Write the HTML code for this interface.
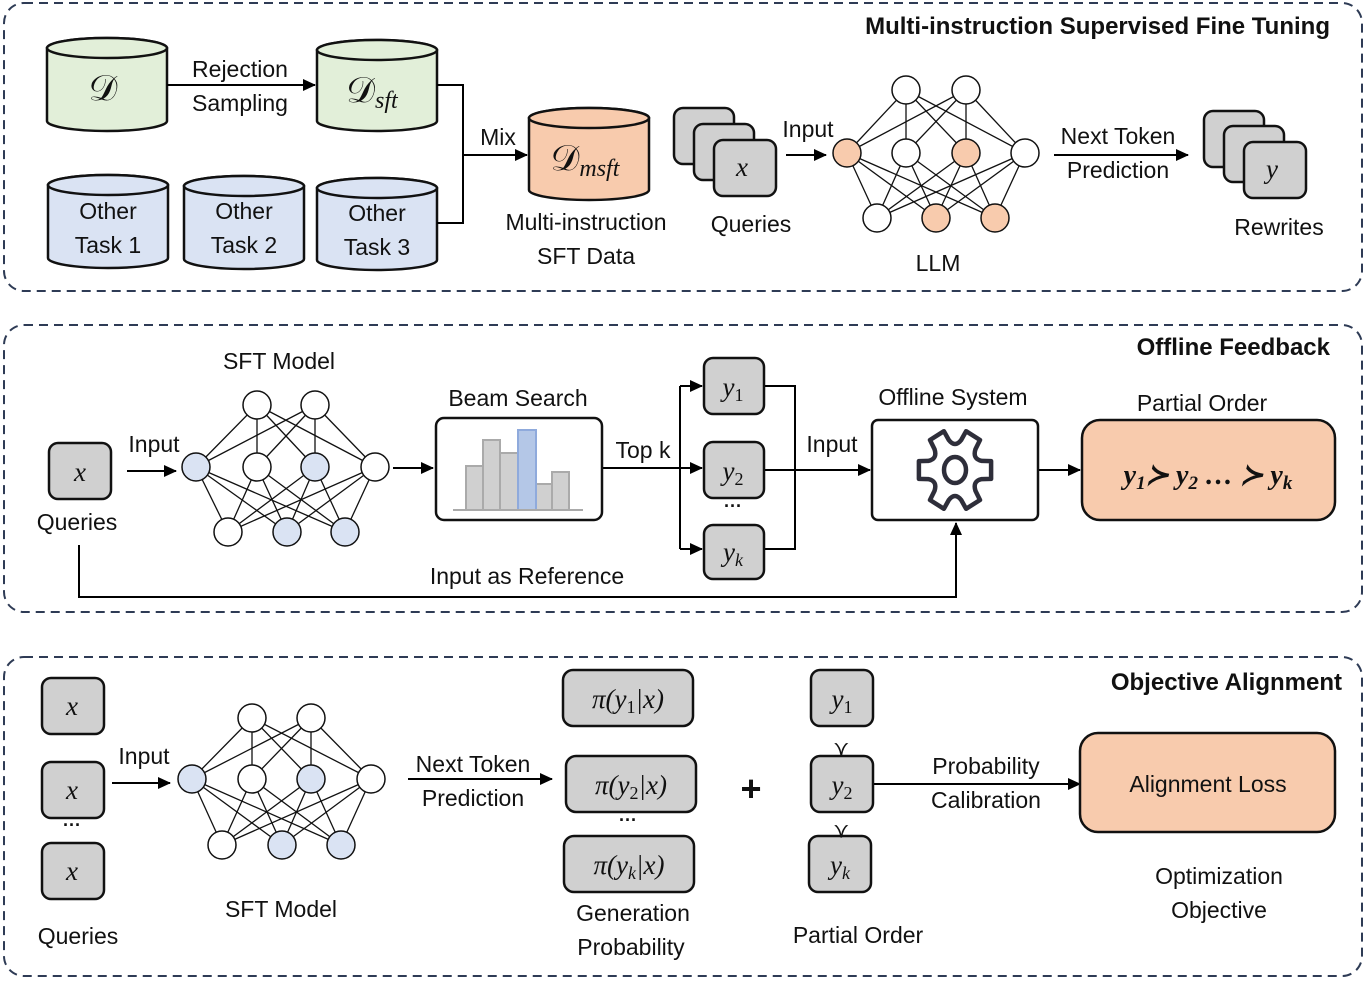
<!DOCTYPE html>
<html><head><meta charset="utf-8"><style>
html,body{margin:0;padding:0;background:#fff;}
svg{display:block;}
text{font-family:"Liberation Sans",sans-serif;font-size:23px;fill:#111;}
.t{font-weight:bold;font-size:24px;text-anchor:end;}
.m{font-family:"Liberation Serif",serif;font-style:italic;font-size:27px;text-anchor:middle;}
.c{text-anchor:middle;}
</style></head><body>
<svg id="s" width="1367" height="982" viewBox="0 0 1367 982" xmlns="http://www.w3.org/2000/svg">
<defs>
<marker id="a" markerWidth="13" markerHeight="12" refX="12" refY="6" orient="auto" markerUnits="userSpaceOnUse"><path d="M0,0 L13,6 L0,12 z" fill="#000"/></marker>
</defs>
<g fill="none" stroke="#2e3b55" stroke-width="2" stroke-dasharray="9,6">
<rect x="4" y="3" width="1358" height="288" rx="20"/>
<rect x="4" y="325" width="1358" height="287" rx="20"/>
<rect x="4" y="657" width="1358" height="319" rx="20"/>
</g>
<text class="t" x="1330" y="34">Multi-instruction Supervised Fine Tuning</text>
<text class="t" x="1330" y="355">Offline Feedback</text>
<text class="t" x="1342" y="690">Objective Alignment</text>

<g id="cyl" stroke="#111" stroke-width="2.5"></g>

<g stroke="#000" stroke-width="2" fill="none">
<line x1="167" y1="85" x2="315" y2="85" marker-end="url(#a)"/>
<polyline points="437,85 463,85 463,223 437,223"/>
<line x1="463" y1="155" x2="527" y2="155" marker-end="url(#a)"/>
<line x1="786" y1="155" x2="826" y2="155" marker-end="url(#a)"/>
<line x1="1054" y1="155" x2="1188" y2="155" marker-end="url(#a)"/>
</g>
<text class="c" x="240" y="77">Rejection</text>
<text class="c" x="240" y="111">Sampling</text>
<text class="c" x="498" y="145">Mix</text>
<text class="c" x="586" y="230">Multi-instruction</text>
<text class="c" x="586" y="264">SFT Data</text>
<text class="c" x="751" y="232">Queries</text>
<text class="c" x="808" y="137">Input</text>
<text class="c" x="1118" y="144">Next Token</text>
<text class="c" x="1118" y="178">Prediction</text>
<text class="c" x="1279" y="235">Rewrites</text>
<text class="c" x="938" y="271">LLM</text>
<g fill="#d0d0d0" stroke="#111" stroke-width="2.5">
<rect x="674" y="108" width="60" height="56" rx="9"/>
<rect x="694" y="124" width="60" height="56" rx="9"/>
<rect x="714" y="140" width="62" height="56" rx="9"/>
<rect x="1204" y="111" width="60" height="56" rx="9"/>
<rect x="1224" y="126" width="60" height="56" rx="9"/>
<rect x="1244" y="142" width="62" height="56" rx="9"/>
</g>
<text class="m" x="742" y="176">x</text>
<text class="m" x="1272" y="178">y</text>

<g stroke="#000" stroke-width="2" fill="none">
<line x1="127" y1="471" x2="176" y2="471" marker-end="url(#a)"/>
<line x1="393" y1="468" x2="433" y2="468" marker-end="url(#a)"/>
<line x1="602" y1="468" x2="702" y2="468" marker-end="url(#a)"/>
<line x1="680" y1="386" x2="680" y2="549"/>
<line x1="680" y1="386" x2="702" y2="386" marker-end="url(#a)"/>
<line x1="680" y1="549" x2="702" y2="549" marker-end="url(#a)"/>
<polyline points="764,386 795,386 795,549 764,549"/>
<line x1="764" y1="470" x2="870" y2="470" marker-end="url(#a)"/>
<line x1="1038" y1="470" x2="1080" y2="470" marker-end="url(#a)"/>
<polyline points="79,545 79,597 956,597 956,523" marker-end="url(#a)"/>
</g>
<g fill="#d0d0d0" stroke="#111" stroke-width="2.5">
<rect x="49" y="443" width="62" height="56" rx="9"/>
<rect x="704" y="358" width="60" height="56" rx="9"/>
<rect x="704" y="442" width="60" height="56" rx="9"/>
<rect x="704" y="525" width="60" height="54" rx="9"/>
</g>
<text class="m" x="80" y="481">x</text>
<text class="m" x="733" y="396">y<tspan font-style="normal" font-size="18" dy="5">1</tspan></text>
<text class="m" x="733" y="480">y<tspan font-style="normal" font-size="18" dy="5">2</tspan></text>
<text class="m" x="733" y="561">y<tspan font-size="18" dy="5">k</tspan></text>
<text class="c" x="733" y="512" style="font-weight:bold;font-size:18px">···</text>
<text class="c" x="77" y="530">Queries</text>
<text class="c" x="154" y="452">Input</text>
<text class="c" x="279" y="369">SFT Model</text>
<text class="c" x="518" y="406">Beam Search</text>
<text class="c" x="643" y="458">Top k</text>
<text class="c" x="832" y="452">Input</text>
<text class="c" x="953" y="405">Offline System</text>
<text class="c" x="1202" y="411">Partial Order</text>
<text class="c" x="527" y="584">Input as Reference</text>
<rect x="436" y="418" width="166" height="102" rx="8" fill="#fff" stroke="#111" stroke-width="2.5"/>
<g stroke="#aaa" stroke-width="2" fill="#d0d0d0">
<rect x="466" y="466" width="17" height="44"/>
<rect x="483" y="440" width="17" height="70"/>
<rect x="500" y="453" width="18" height="57"/>
<rect x="536" y="484" width="16" height="26"/>
<rect x="552" y="472" width="17" height="38"/>
<rect x="518" y="430" width="18" height="80" fill="#b4c7e7" stroke="#8faadc"/>
<line x1="453" y1="510" x2="583" y2="510"/>
</g>
<rect x="872" y="420" width="166" height="100" rx="6" fill="#fff" stroke="#111" stroke-width="2.5"/>
<g transform="translate(955,470)" fill="none" stroke="#2e2e3a" stroke-width="4.5" stroke-linejoin="round">
<path id="gear" d=""/>
<ellipse cx="0" cy="0" rx="11" ry="13"/>
</g>
<rect x="1082" y="420" width="253" height="100" rx="18" fill="#f8cbad" stroke="#111" stroke-width="2.5"/>
<text x="1208" y="484" text-anchor="middle" style="font-family:'Liberation Serif',serif;font-style:italic;font-weight:bold;font-size:28px">y<tspan font-size="19" dy="5">1</tspan><tspan dy="-5">≻ y</tspan><tspan font-size="19" dy="5">2</tspan><tspan dy="-5"> … ≻ y</tspan><tspan font-size="19" dy="5">k</tspan></text>

<g stroke="#000" stroke-width="2" fill="none">
<line x1="112" y1="783" x2="170" y2="783" marker-end="url(#a)"/>
<line x1="408" y1="779" x2="552" y2="779" marker-end="url(#a)"/>
<line x1="873" y1="784" x2="1080" y2="784" marker-end="url(#a)"/>
</g>
<g fill="#d0d0d0" stroke="#111" stroke-width="2.5">
<rect x="42" y="678" width="62" height="56" rx="9"/>
<rect x="42" y="762" width="62" height="56" rx="9"/>
<rect x="42" y="843" width="62" height="56" rx="9"/>
<rect x="563" y="670" width="130" height="56" rx="10"/>
<rect x="566" y="756" width="130" height="56" rx="10"/>
<rect x="564" y="836" width="130" height="56" rx="10"/>
<rect x="811" y="670" width="62" height="56" rx="9"/>
<rect x="811" y="756" width="62" height="56" rx="9"/>
<rect x="809" y="836" width="62" height="56" rx="9"/>
</g>
<text class="m" x="72" y="715">x</text>
<text class="m" x="72" y="799">x</text>
<text class="m" x="72" y="880">x</text>
<text class="c" x="72" y="831" style="font-weight:bold;font-size:18px">···</text>
<text class="m" x="628" y="708">π(y<tspan font-style="normal" font-size="18" dy="5">1</tspan><tspan dy="-5">|x)</tspan></text>
<text class="m" x="631" y="794">π(y<tspan font-style="normal" font-size="18" dy="5">2</tspan><tspan dy="-5">|x)</tspan></text>
<text class="m" x="629" y="874">π(y<tspan font-size="18" dy="5">k</tspan><tspan dy="-5">|x)</tspan></text>
<text class="c" x="628" y="826" style="font-weight:bold;font-size:18px">···</text>
<text class="m" x="842" y="708">y<tspan font-style="normal" font-size="18" dy="5">1</tspan></text>
<text class="m" x="842" y="794">y<tspan font-style="normal" font-size="18" dy="5">2</tspan></text>
<text class="m" x="840" y="874">y<tspan font-size="18" dy="5">k</tspan></text>
<text x="0" y="0" style="font-size:20px" transform="translate(835,741) rotate(90)">≻</text>
<text x="0" y="0" style="font-size:20px" transform="translate(835,823) rotate(90)">≻</text>
<text class="c" x="751" y="801" style="font-weight:bold;font-size:36px">+</text>
<text class="c" x="473" y="772">Next Token</text>
<text class="c" x="473" y="806">Prediction</text>
<text class="c" x="78" y="944">Queries</text>
<text class="c" x="144" y="764">Input</text>
<text class="c" x="281" y="917">SFT Model</text>
<text class="c" x="633" y="921">Generation</text>
<text class="c" x="631" y="955">Probability</text>
<text class="c" x="858" y="943">Partial Order</text>
<text class="c" x="986" y="774">Probability</text>
<text class="c" x="986" y="808">Calibration</text>
<rect x="1080" y="733" width="255" height="99" rx="18" fill="#f8cbad" stroke="#111" stroke-width="2.5"/>
<text class="c" x="1208" y="792">Alignment Loss</text>
<text class="c" x="1219" y="884">Optimization</text>
<text class="c" x="1219" y="918">Objective</text>
<g id="nets"></g>
</svg>
<script>
var NS="http://www.w3.org/2000/svg",s=document.getElementById('s');
function el(t,a,p){var e=document.createElementNS(NS,t);for(var k in a)e.setAttribute(k,a[k]);(p||s).appendChild(e);return e;}
var cg=document.getElementById('cyl');
function cyl(x,y,w,h,f){var ry=10;
 el('path',{d:'M'+x+','+(y+ry)+' L'+x+','+(y+h-ry)+' A'+(w/2)+','+ry+' 0 0 0 '+(x+w)+','+(y+h-ry)+' L'+(x+w)+','+(y+ry)+' A'+(w/2)+','+ry+' 0 0 0 '+x+','+(y+ry)+' Z',fill:f},cg);
 el('ellipse',{cx:x+w/2,cy:y+ry,rx:w/2,ry:ry,fill:f},cg);}
cyl(47,38,120,93,'#e2efd9');cyl(317,40,120,91,'#e2efd9');
cyl(48,175,120,93,'#dae3f3');cyl(184,176,120,93,'#dae3f3');cyl(317,178,120,92,'#dae3f3');
cyl(529,108,120,92,'#f8cbad');
function tx(x,y,str,cls,style){var t=el('text',{x:x,y:y,'class':cls,style:style||''});t.innerHTML=str;}
tx(103,100,'𝒟','m','font-style:normal;font-size:36px');
tx(372,102,'𝒟<tspan font-size="24" dy="6" font-style="italic">sft</tspan>','m','font-style:normal;font-size:36px');
tx(585,170,'𝒟<tspan font-size="24" dy="6" font-style="italic">msft</tspan>','m','font-style:normal;font-size:36px');
tx(108,219,'Other','c');tx(108,253,'Task 1','c');
tx(244,219,'Other','c');tx(244,253,'Task 2','c');
tx(377,221,'Other','c');tx(377,255,'Task 3','c');
var ng=document.getElementById('nets');
function net(T,M,B,col,fillIdx){
 T.forEach(function(a){M.forEach(function(b){el('line',{x1:a[0],y1:a[1],x2:b[0],y2:b[1],stroke:'#111','stroke-width':1.3},ng);});});
 M.forEach(function(a){B.forEach(function(b){el('line',{x1:a[0],y1:a[1],x2:b[0],y2:b[1],stroke:'#111','stroke-width':1.3},ng);});});
 var all=T.concat(M,B);
 all.forEach(function(p,i){el('circle',{cx:p[0],cy:p[1],r:14,fill:fillIdx.indexOf(i)>=0?col:'#fff',stroke:'#111','stroke-width':1.5},ng);});}
net([[906,90],[966,90]],[[847,153],[906,153],[966,153],[1025,153]],[[877,218],[936,218],[995,218]],'#f8cbad',[2,4,7,8]);
net([[257,405],[315,405]],[[196,467],[257,467],[315,467],[375,467]],[[228,532],[287,532],[345,532]],'#dae3f3',[2,4,7,8]);
net([[252,718],[311,718]],[[192,779],[252,779],[311,779],[371,779]],[[222,845],[282,845],[341,845]],'#dae3f3',[2,4,7,8]);
var d='',n=6;for(var i=0;i<n;i++){var a0=i*2*Math.PI/n;
 var pts=[[a0-0.30,28],[a0-0.22,37],[a0+0.22,37],[a0+0.30,28]];
 pts.forEach(function(p,j){var x=Math.cos(p[0])*p[1],y=Math.sin(p[0])*p[1]*1.1;d+=(i==0&&j==0?'M':'L')+x.toFixed(1)+','+y.toFixed(1)+' ';});
 var a1=a0+Math.PI/n;d+='Q'+(Math.cos(a1)*20).toFixed(1)+','+(Math.sin(a1)*22).toFixed(1)+' '+(Math.cos(a0+2*Math.PI/n-0.30)*28).toFixed(1)+','+(Math.sin(a0+2*Math.PI/n-0.30)*28*1.1).toFixed(1)+' ';}
document.getElementById('gear').setAttribute('d',d+'Z');
</script>
</body></html>
